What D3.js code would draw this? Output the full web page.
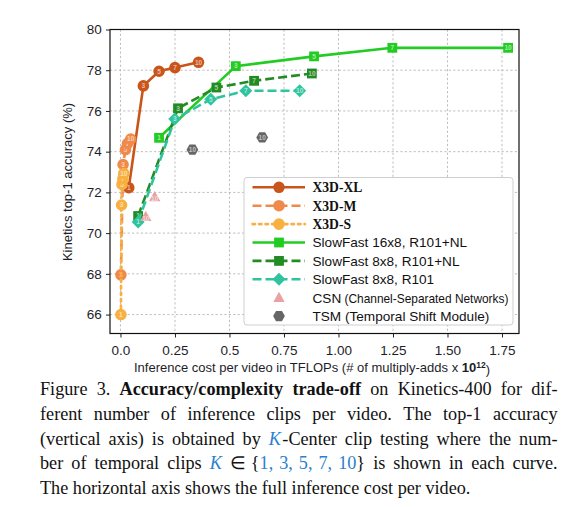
<!DOCTYPE html>
<html><head><meta charset="utf-8">
<script src="https://cdn.jsdelivr.net/npm/d3@7"></script>
<style>body{margin:0;background:#fff}svg{display:block}</style>
</head><body>
<svg id="c" width="578" height="507"></svg>
<script>
// ---- data ----
const clips = [1, 3, 5, 7, 10];
const x3dXL_x = [0.038, 0.105, 0.177, 0.250, 0.358];
const x3dXL_y = [72.23, 77.23, 77.95, 78.13, 78.39];
const x3dM_x = [0.002, 0.012, 0.023, 0.032, 0.047];
const x3dM_y = [67.95, 73.37, 74.10, 74.40, 74.62];
const x3dS_x = [0.002, 0.005, 0.007, 0.011, 0.015];
const x3dS_y = [66.00, 71.38, 72.39, 72.67, 72.93];
const sf16nl_x = [0.177, 0.529, 0.888, 1.247, 1.778];
const sf16nl_y = [74.68, 78.20, 78.68, 79.10, 79.10];
const sf8nl_x = [0.081, 0.264, 0.440, 0.613, 0.878];
const sf8nl_y = [70.84, 76.13, 77.15, 77.48, 77.84];
const sf8_x = [0.081, 0.249, 0.414, 0.575, 0.822];
const sf8_y = [70.55, 75.60, 76.57, 76.99, 76.99];
const csn_x = [0.116, 0.157];
const csn_y = [70.80, 71.77];
const csn_k = [10, 10];
const tsm_x = [0.33, 0.65];
const tsm_y = [74.10, 74.70];
const tsm_k = [10, 10];
const xTicks = [0, 0.25, 0.5, 0.75, 1.0, 1.25, 1.5, 1.75];
const xTickLabels = ["0.0", "0.25", "0.5", "0.75", "1.00", "1.25", "1.50", "1.75"];
const yTicks = [66, 68, 70, 72, 74, 76, 78, 80];

const series = [
  {name:"X3D-XL", bold:true, x:x3dXL_x, y:x3dXL_y, k:clips, color:"#c9551b", dash:null, marker:"circle"},
  {name:"X3D-M", bold:true, x:x3dM_x, y:x3dM_y, k:clips, color:"#f08a4b", dash:"9,4", marker:"circle"},
  {name:"X3D-S", bold:true, x:x3dS_x, y:x3dS_y, k:clips, color:"#f8b041", dash:"2.5,4", marker:"circle"},
  {name:"SlowFast 16x8, R101+NL", x:sf16nl_x, y:sf16nl_y, k:clips, color:"#22cc22", dash:null, marker:"square"},
  {name:"SlowFast 8x8, R101+NL", x:sf8nl_x, y:sf8nl_y, k:clips, color:"#238b23", dash:"9,4", marker:"square"},
  {name:"SlowFast 8x8, R101", x:sf8_x, y:sf8_y, k:clips, color:"#2ec49e", dash:"9,4", marker:"diamond"},
  {name:"CSN", sub:"(Channel-Separated Networks)", x:csn_x, y:csn_y, k:csn_k, color:"#e8a2a2", dash:null, marker:"triangle", noline:true},
  {name:"TSM", sub2:"(Temporal Shift Module)", x:tsm_x, y:tsm_y, k:tsm_k, color:"#666666", dash:null, marker:"hexagon", noline:true}
];

const svg = d3.select("#c");
const L = 110, R = 519, T = 29.5, B = 333.5;
const x = d3.scaleLinear().domain([-0.048, 1.828]).range([L, R]);
const y = d3.scaleLinear().domain([65.07, 80]).range([B, T]);

// grid
const g = svg.append("g");
g.selectAll(".gx").data(xTicks).join("line")
  .attr("x1", d => x(d)).attr("x2", d => x(d)).attr("y1", T).attr("y2", B)
  .attr("stroke", "#b5b5b5").attr("stroke-width", 0.9).attr("stroke-dasharray", "2.2,2.2");
g.selectAll(".gy").data(yTicks).join("line")
  .attr("y1", d => y(d)).attr("y2", d => y(d)).attr("x1", L).attr("x2", R)
  .attr("stroke", "#b5b5b5").attr("stroke-width", 0.9).attr("stroke-dasharray", "2.2,2.2");

// axes
const xAxis = d3.axisBottom(x).tickValues(xTicks).tickFormat((d, i) => xTickLabels[i]).tickSize(4).tickSizeOuter(0);
const yAxis = d3.axisLeft(y).tickValues(yTicks).tickFormat(d3.format("d")).tickSize(4).tickSizeOuter(0);
const gx = svg.append("g").attr("transform", `translate(0,${B})`).call(xAxis);
const gy = svg.append("g").attr("transform", `translate(${L},0)`).call(yAxis);
[gx, gy].forEach(a => {
  a.select(".domain").remove();
  a.selectAll("line").attr("stroke", "#222").attr("stroke-width", 1);
  a.selectAll("text").attr("fill", "#1e1e2a").style("font-family", "'Liberation Sans', Arial, sans-serif").style("font-size", "13.5px");
});
gx.selectAll("text").attr("dy", "1.05em");
gy.selectAll("text").attr("dx", "-0.1em");

// frame
svg.append("rect").attr("x", L).attr("y", T).attr("width", R - L).attr("height", B - T)
  .attr("fill", "none").attr("stroke", "#111").attr("stroke-width", 1.2);

// marker path generator
function markerPath(type, s) {
  if (type === "circle") return d3.symbol(d3.symbolCircle, Math.PI * 5.8 * 5.8 * s * s)();
  if (type === "square") { const h = 4.9 * s; return `M${-h},${-h}H${h}V${h}H${-h}Z`; }
  if (type === "diamond") { const h = 6.5 * s; return `M0,${-h}L${h},0L0,${h}L${-h},0Z`; }
  if (type === "triangle") { const h = 6 * s; return `M0,${-h}L${h*0.95},${h*0.7}L${-h*0.95},${h*0.7}Z`; }
  if (type === "hexagon") {
    const r = 5.9 * s; let p = "";
    for (let i = 0; i < 6; i++) { const a = Math.PI / 3 * i; p += (i ? "L" : "M") + (r * Math.cos(a)).toFixed(2) + "," + (r * Math.sin(a)).toFixed(2); }
    return p + "Z";
  }
}

const line = d3.line().x(d => x(d[0])).y(d => y(d[1]));
const plot = svg.append("g");
series.forEach(s => {
  const pts = s.x.map((v, i) => [v, s.y[i], s.k[i]]);
  const gs = plot.append("g");
  if (!s.noline) {
    gs.append("path").attr("d", line(pts)).attr("fill", "none").attr("stroke", s.color)
      .attr("stroke-width", 2.6).attr("stroke-dasharray", s.dash).attr("stroke-linecap", s.dash && s.dash.startsWith("2.5") ? "round" : "butt");
  }
  const m = gs.selectAll(".m").data(pts).join("g").attr("transform", d => `translate(${x(d[0])},${y(d[1])})`);
  m.append("path").attr("d", markerPath(s.marker, 1)).attr("fill", s.color);
  m.append("text").text(d => d[2]).attr("text-anchor", "middle").attr("dy", s.marker === "triangle" ? "0.9em" : "0.35em")
    .attr("y", s.marker === "triangle" ? -2 : 0)
    .attr("fill", "rgba(255,255,255,0.6)").style("font-family", "'Liberation Sans', Arial, sans-serif")
    .style("font-size", "6.5px").style("font-weight", "bold");
});

// legend
const lg = svg.append("g");
lg.append("rect").attr("x", 244).attr("y", 177.5).attr("width", 269).attr("height", 147.5)
  .attr("rx", 3).attr("fill", "#fff").attr("stroke", "#cfcfcf").attr("stroke-width", 1);
series.forEach((s, i) => {
  const yy = 187.3 + i * 18.4;
  if (!s.noline) {
    lg.append("line").attr("x1", 252.5).attr("x2", 305).attr("y1", yy).attr("y2", yy)
      .attr("stroke", s.color).attr("stroke-width", 2.6).attr("stroke-dasharray", s.dash)
      .attr("stroke-linecap", s.dash && s.dash.startsWith("2.5") ? "round" : "butt");
  }
  lg.append("path").attr("transform", `translate(279,${yy})`).attr("d", markerPath(s.marker, 1)).attr("fill", s.color);
  const t = lg.append("text").attr("x", 312.5).attr("y", yy).attr("dy", "0.36em").attr("fill", "#111");
  if (s.bold) {
    t.text(s.name).style("font-family", "'Liberation Serif', 'Times New Roman', serif").style("font-weight", "bold").style("font-size", "13.6px");
  } else {
    t.style("font-family", "'Liberation Sans', Arial, sans-serif").style("font-size", "13.6px");
    t.append("tspan").text(s.name);
    if (s.sub) t.append("tspan").text(" " + s.sub).style("font-size", "11.9px");
    if (s.sub2) t.append("tspan").text(" " + s.sub2);
  }
});

// axis labels
svg.append("text").attr("transform", `translate(72,182) rotate(-90)`).attr("text-anchor", "middle")
  .attr("fill", "#1e1e2a").style("font-family", "'Liberation Sans', Arial, sans-serif").style("font-size", "13px")
  .text("Kinetics top-1 accuracy (%)");
const xl = svg.append("text").attr("x", 312).attr("y", 372).attr("text-anchor", "middle")
  .attr("fill", "#1e1e2a").style("font-family", "'Liberation Sans', Arial, sans-serif").style("font-size", "13px");
xl.append("tspan").text("Inference cost per video in TFLOPs (# of multiply-adds x ");
xl.append("tspan").text("10").style("font-weight", "bold");
xl.append("tspan").text("12").attr("dy", "-0.45em").style("font-size", "8.5px").style("font-weight", "bold");
xl.append("tspan").text(")").attr("dy", "0.45em");

// caption: each line is a list of words; each word is a list of [text, style, dx] runs
const blue = "#2b7fcf";
function W(s) { return s.split(" ").map(w => [[w, ""]]); }
function Wb(s) { return s.split(" ").map(w => [[w, "b"]]); }
const kSet = ["1,", "3,", "5,", "7,", "10"];
const mathWord = [["K", "ib"], ["\u2208", "", 8], ["{", "", 5], ...kSet.map((d, j) => [d, "c", j ? 6 : 0]), ["}", "", 0]];
const capLines = [
  [...W("Figure 3."), ...Wb("Accuracy/complexity trade-off"), ...W("on Kinetics-400 for dif-")],
  [...W("ferent number of inference clips per video."), ...W("The top-1 accuracy")],
  [...W("(vertical axis) is obtained by"), [["K", "ib"], ["-Center", "", 1.5]], ...W("clip testing where the num-")],
  [...W("ber of temporal clips"), mathWord, ...W("is shown in each curve.")],
  [...W("The horizontal axis shows the full inference cost per video.")]
];
const capX0 = 40, capX1 = 557.5;
const capFont = "18.2px";
function makeWord(parent, runs, xx, yy) {
  const t = parent.append("text").attr("x", xx).attr("y", yy).attr("fill", "#111")
    .style("font-family", "'Liberation Serif', 'Times New Roman', serif").style("font-size", capFont);
  runs.forEach(([txt, st, dx]) => {
    const sp = t.append("tspan").text(txt);
    if (dx) sp.attr("dx", dx);
    if (st === "b") sp.style("font-weight", "bold");
    if (st === "ib") sp.style("font-style", "italic").attr("fill", blue);
    if (st === "c") sp.attr("fill", blue);
  });
  return t;
}
const cap = svg.append("g");
const probe = makeWord(cap, [["a", ""], ["a", "", 0]], 0, -100);
const probe2 = cap.append("text").attr("y", -100).style("font-family", "'Liberation Serif', 'Times New Roman', serif").style("font-size", capFont).text("a a");
const spaceW = probe2.node().getComputedTextLength() - probe.node().getComputedTextLength();
probe.remove(); probe2.remove();
capLines.forEach((ln, i) => {
  const yy = 395 + i * 24.8;
  const els = ln.map(runs => makeWord(cap, runs, 0, yy));
  const widths = els.map((e, j) => e.node().getComputedTextLength() + ln[j].reduce((a, r) => a + (r[2] || 0), 0));
  const total = widths.reduce((a, b) => a + b, 0);
  const gap = i < 4 ? (capX1 - capX0 - total) / (ln.length - 1) : spaceW;
  let cx = capX0;
  els.forEach((e, j) => { e.attr("x", cx); cx += widths[j] + gap; });
});
</script>
</body></html>
